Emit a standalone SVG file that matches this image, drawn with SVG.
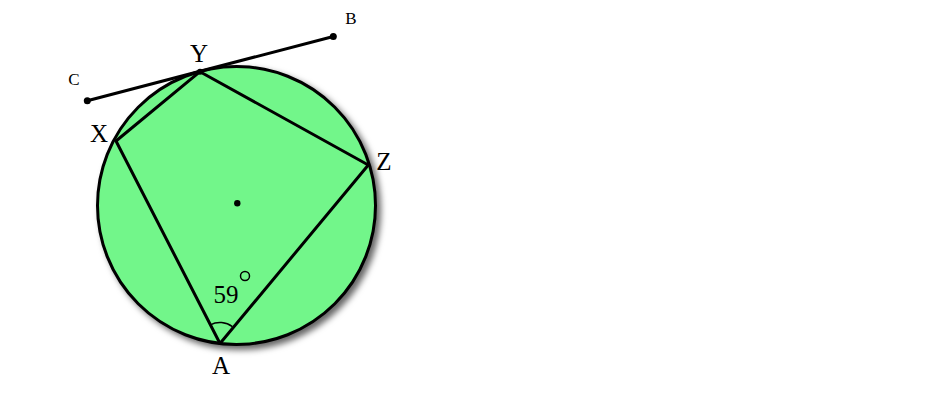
<svg xmlns="http://www.w3.org/2000/svg" width="950" height="400" viewBox="0 0 950 400">
<defs>
<style>
.ln{stroke:#000;stroke-width:3;fill:none;stroke-linecap:round;stroke-linejoin:round}
.big{font-family:"Liberation Serif","Times New Roman",serif;font-size:25px;fill:#000;text-anchor:middle}
.sm{font-family:"Liberation Serif","Times New Roman",serif;font-size:17px;fill:#000;text-anchor:middle}
</style>
<filter id="sh" x="-20%" y="-20%" width="140%" height="140%">
<feDropShadow dx="4" dy="4" stdDeviation="3" flood-color="#000" flood-opacity="0.6"/>
</filter>
</defs>
<rect width="950" height="400" fill="#fff"/>
<g id="circle">
<circle cx="236.5" cy="205.5" r="139" fill="#72F68A" stroke="#000" stroke-width="3" filter="url(#sh)"/>
<circle cx="237.3" cy="203.3" r="3.2" fill="#000"/>
</g>
<g id="connectors">
<line class="ln" x1="87.3" y1="100.7" x2="333.3" y2="36.5"/>
<polyline class="ln" points="116,141 200,71.7 368.3,165 220,343.5 116,141"/>
<path d="M210.3,324.8 A21,21 0 0 1 232.4,326.6" fill="none" stroke="#000" stroke-width="1.5"/>
<circle cx="245" cy="276" r="4.5" fill="none" stroke="#000" stroke-width="1.5"/>
</g>
<g id="points">
<circle cx="87.3" cy="100.7" r="3.5" fill="#000"/>
<circle cx="333.3" cy="36.5" r="3.5" fill="#000"/>
<circle cx="200" cy="71.7" r="3" fill="#000"/>
</g>
<g id="labels">
<text class="big" x="199" y="62">Y</text>
<text class="sm" x="351" y="24">B</text>
<text class="sm" x="74" y="85">C</text>
<text class="big" x="99" y="142">X</text>
<text class="big" x="384" y="170">Z</text>
<text class="big" x="221" y="374">A</text>
<text class="big" x="226" y="303">59</text>
</g>
</svg>
